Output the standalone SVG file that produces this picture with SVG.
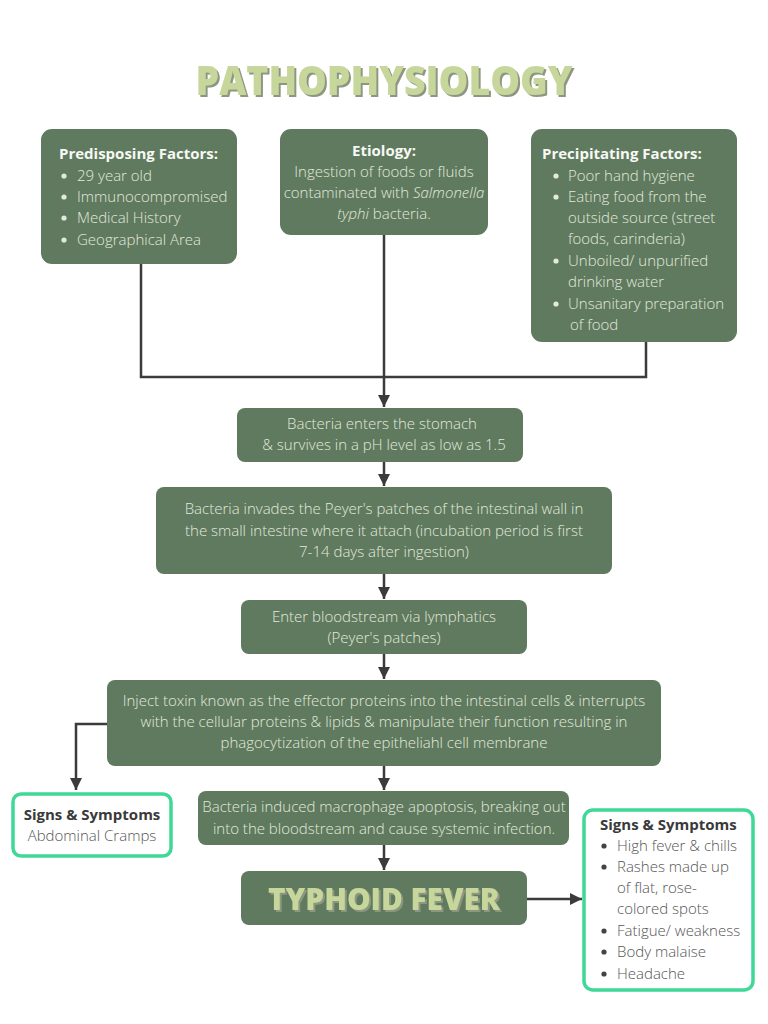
<svg xmlns="http://www.w3.org/2000/svg" width="768" height="1024" viewBox="0 0 768 1024">
<style>
.box{fill:#5f7a5f}
.sym{fill:#ffffff;stroke:#3fd896;stroke-width:3.5}
.t{font-family:"Open Sans","Noto Sans","Liberation Sans",sans-serif;font-size:15px;font-weight:300;fill:#e3e9dc}
.c{text-anchor:middle}
.h{font-family:"Open Sans","Noto Sans","Liberation Sans",sans-serif;font-size:15px;font-weight:700;fill:#f7f8f4}
.hd{font-family:"Open Sans","Noto Sans","Liberation Sans",sans-serif;font-size:15px;font-weight:700;fill:#3a3a3a}
.g{font-family:"Open Sans","Noto Sans","Liberation Sans",sans-serif;font-size:15px;font-weight:300;fill:#555555}
.big{font-family:"Open Sans","Noto Sans","Liberation Sans",sans-serif;font-weight:800;fill:#c7d79c;text-anchor:middle}
.ln{fill:none;stroke:#3b3b3b;stroke-width:2.5}
.dot{fill:#e3e9dc}
.dotd{fill:#444444}
</style>
<defs>
<marker id="ah" markerUnits="userSpaceOnUse" markerWidth="12" markerHeight="12" refX="10" refY="5" orient="auto" viewBox="0 0 10 10">
<path d="M0,0 L10,5 L0,10 z" fill="#3b3b3b"/>
</marker>
<filter id="sh" x="-5%" y="-20%" width="110%" height="150%">
<feDropShadow dx="2" dy="2" stdDeviation="0.4" flood-color="#8e9682" flood-opacity="1"/>
</filter>
</defs>
<rect width="768" height="1024" fill="#ffffff"/>

<g id="title">
<text class="big" x="384" y="95" font-size="40" textLength="377" lengthAdjust="spacingAndGlyphs" filter="url(#sh)">PATHOPHYSIOLOGY</text>
</g>

<g id="connectors">
<polyline class="ln" points="141,263 141,377 646,377 646,342"/>
<line class="ln" x1="384" y1="235" x2="384" y2="407" marker-end="url(#ah)"/>
<line class="ln" x1="384" y1="462" x2="384" y2="486" marker-end="url(#ah)"/>
<line class="ln" x1="384" y1="574" x2="384" y2="599" marker-end="url(#ah)"/>
<line class="ln" x1="384" y1="654" x2="384" y2="679" marker-end="url(#ah)"/>
<line class="ln" x1="384" y1="766" x2="384" y2="790" marker-end="url(#ah)"/>
<line class="ln" x1="384" y1="845" x2="384" y2="870" marker-end="url(#ah)"/>
<polyline class="ln" points="107,724 76,724 76,790" marker-end="url(#ah)"/>
<line class="ln" x1="527" y1="899" x2="582" y2="899" marker-end="url(#ah)"/>
</g>

<g id="predisposing">
<rect class="box" x="41" y="129" width="196" height="135" rx="11"/>
<text class="h" x="59" y="159">Predisposing Factors:</text>
<circle class="dot" cx="64" cy="176" r="2.6"/>
<circle class="dot" cx="64" cy="197" r="2.6"/>
<circle class="dot" cx="64" cy="218" r="2.6"/>
<circle class="dot" cx="64" cy="240" r="2.6"/>
<text class="t" x="77" y="181">29 year old</text>
<text class="t" x="77" y="202">Immunocompromised</text>
<text class="t" x="77" y="223">Medical History</text>
<text class="t" x="77" y="245">Geographical Area</text>
</g>

<g id="etiology">
<rect class="box" x="280" y="129" width="208" height="106" rx="11"/>
<text class="h c" x="384" y="156">Etiology:</text>
<text class="t c" x="384" y="177">Ingestion of foods or fluids</text>
<text class="t c" x="384" y="198">contaminated with <tspan font-style="italic">Salmonella</tspan></text>
<text class="t c" x="384" y="219"><tspan font-style="italic">typhi</tspan> bacteria.</text>
</g>

<g id="precipitating">
<rect class="box" x="531" y="129" width="206" height="213" rx="11"/>
<text class="h" x="542" y="159">Precipitating Factors:</text>
<circle class="dot" cx="556" cy="176" r="2.6"/>
<circle class="dot" cx="556" cy="197" r="2.6"/>
<circle class="dot" cx="556" cy="261" r="2.6"/>
<circle class="dot" cx="556" cy="304" r="2.6"/>
<text class="t" x="568" y="181">Poor hand hygiene</text>
<text class="t" x="568" y="202">Eating food from the</text>
<text class="t" x="568" y="223">outside source (street</text>
<text class="t" x="568" y="244">foods, carinderia)</text>
<text class="t" x="568" y="266">Unboiled/ unpurified</text>
<text class="t" x="568" y="287">drinking water</text>
<text class="t" x="568" y="309">Unsanitary preparation</text>
<text class="t" x="570" y="330">of food</text>
</g>

<g id="stomach">
<rect class="box" x="237" y="408" width="286" height="54" rx="8"/>
<text class="t c" x="382" y="429">Bacteria enters the stomach</text>
<text class="t c" x="384" y="450">&amp; survives in a pH level as low as 1.5</text>
</g>

<g id="peyers">
<rect class="box" x="156" y="487" width="456" height="87" rx="8"/>
<text class="t c" x="384" y="514">Bacteria invades the Peyer's patches of the intestinal wall in</text>
<text class="t c" x="384" y="536">the small intestine where it attach (incubation period is first</text>
<text class="t c" x="384" y="557">7-14 days after ingestion)</text>
</g>

<g id="bloodstream">
<rect class="box" x="241" y="600" width="286" height="54" rx="8"/>
<text class="t c" x="384" y="622">Enter bloodstream via lymphatics</text>
<text class="t c" x="384" y="643">(Peyer's patches)</text>
</g>

<g id="toxin">
<rect class="box" x="107" y="680" width="554" height="86" rx="8"/>
<text class="t c" x="384" y="706">Inject toxin known as the effector proteins into the intestinal cells &amp; interrupts</text>
<text class="t c" x="384" y="727">with the cellular proteins &amp; lipids &amp; manipulate their function resulting in</text>
<text class="t c" x="384" y="748">phagocytization of the epitheliahl cell membrane</text>
</g>

<g id="signs-left">
<rect class="sym" x="13" y="794" width="158" height="62" rx="8"/>
<text class="hd c" x="92" y="820">Signs &amp; Symptoms</text>
<text class="g c" x="92" y="841">Abdominal Cramps</text>
</g>

<g id="apoptosis">
<rect class="box" x="198" y="791" width="371" height="54" rx="8"/>
<text class="t c" x="384" y="812">Bacteria induced macrophage apoptosis, breaking out</text>
<text class="t c" x="384" y="834">into the bloodstream and cause systemic infection.</text>
</g>

<g id="typhoid">
<rect class="box" x="241" y="871" width="286" height="54" rx="8"/>
<text class="big" x="384" y="910" font-size="30" textLength="232" lengthAdjust="spacingAndGlyphs" filter="url(#sh)">TYPHOID FEVER</text>
</g>

<g id="signs-right">
<rect class="sym" x="584" y="810" width="169" height="180" rx="9"/>
<text class="hd" x="600" y="830">Signs &amp; Symptoms</text>
<circle class="dotd" cx="604" cy="846" r="2.6"/>
<circle class="dotd" cx="604" cy="867" r="2.6"/>
<circle class="dotd" cx="604" cy="931" r="2.6"/>
<circle class="dotd" cx="604" cy="952" r="2.6"/>
<circle class="dotd" cx="604" cy="974" r="2.6"/>
<text class="g" x="617" y="851">High fever &amp; chills</text>
<text class="g" x="617" y="872">Rashes made up</text>
<text class="g" x="617" y="893">of flat, rose-</text>
<text class="g" x="617" y="914">colored spots</text>
<text class="g" x="617" y="936">Fatigue/ weakness</text>
<text class="g" x="617" y="957">Body malaise</text>
<text class="g" x="617" y="979">Headache</text>
</g>
</svg>
